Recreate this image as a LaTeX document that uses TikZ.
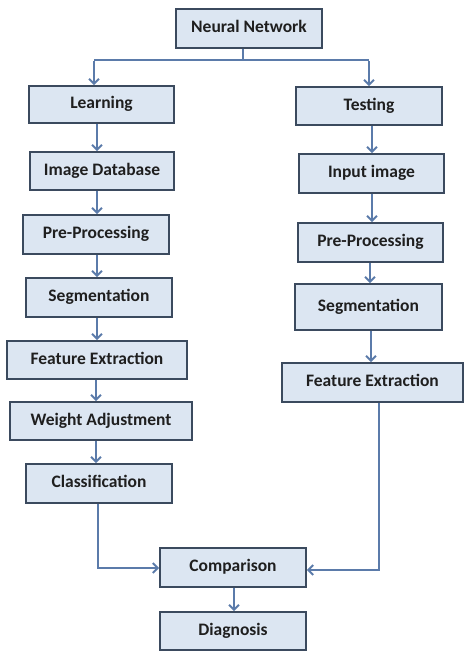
\documentclass[tikz,border=0pt]{standalone}
\usepackage{fontspec}
\setmainfont{Carlito}
\usetikzlibrary{arrows.meta}
\definecolor{boxfill}{HTML}{DCE6F2}
\definecolor{boxline}{HTML}{3B4A5E}
\definecolor{conn}{HTML}{5B7BAA}
\begin{document}
\begin{tikzpicture}[x=1pt,y=-1pt,
  box/.style={draw=boxline, fill=boxfill, line width=1.6pt, inner sep=0pt,
    font=\bfseries\fontsize{17.5}{20}\selectfont, text=black!88,
    text height=12pt, text depth=4pt},
  link/.style={draw=conn, line width=2pt},
  arr/.style={link, -{Straight Barb[length=5pt,width=10pt]}}]
\useasboundingbox (0,0) rectangle (474,656);
\fill[white] (0,0) rectangle (474,656);
% nodes
\node[box, minimum width=146pt, minimum height=39pt] (nn) at (249,28.5) {Neural Network};
\node[box, minimum width=145pt, minimum height=37pt] (learn) at (101.5,104.5) {Learning};
\node[box, minimum width=146pt, minimum height=38pt] (test) at (369,106) {Testing};
\node[box, minimum width=144pt, minimum height=38pt] (imgdb) at (102,171) {Image Database};
\node[box, minimum width=145pt, minimum height=39pt] (input) at (371.5,173.5) {Input image};
\node[box, minimum width=146pt, minimum height=39pt] (prel) at (96,234.5) {Pre-Processing};
\node[box, minimum width=146pt, minimum height=39pt] (segl) at (99,297.5) {Segmentation};
\node[box, minimum width=180pt, minimum height=38pt] (fel) at (97,360) {Feature Extraction};
\node[box, minimum width=182pt, minimum height=38pt] (wa) at (101,421) {Weight Adjustment};
\node[box, minimum width=146pt, minimum height=39pt] (cls) at (99,483.5) {Classification};
\node[box, minimum width=145pt, minimum height=39pt] (prer) at (370.5,242.5) {Pre-Processing};
\node[box, minimum width=147pt, minimum height=46pt] (segr) at (368.5,307) {Segmentation};
\node[box, minimum width=181pt, minimum height=39pt] (fer) at (372.5,382.5) {Feature Extraction};
\node[box, minimum width=146pt, minimum height=39pt] (comp) at (233,567.5) {Comparison};
\node[box, minimum width=146pt, minimum height=38pt] (diag) at (233,631) {Diagnosis};
% fork
\coordinate (fl) at (94,60);
\coordinate (fr) at (369,60);
\coordinate (fm) at (243,60);
\draw[link] (nn.south -| fm) -- (fm);
\draw[link] (fl) -- (fr);
\draw[arr] ([yshift=-1pt]fl) -- (learn.north -| fl);
\draw[arr] ([yshift=-1pt]fr) -- (test.north -| fr);
% left column
\draw[arr] (learn.south -| 97,0) -- (imgdb.north -| 97,0);
\draw[arr] (imgdb.south -| 97,0) -- (prel.north -| 97,0);
\draw[arr] (prel.south -| 97,0) -- (segl.north -| 97,0);
\draw[arr] (segl.south -| 97,0) -- (fel.north -| 97,0);
\draw[arr] (fel.south -| 96,0) -- (wa.north -| 96,0);
\draw[arr] (wa.south -| 96,0) -- (cls.north -| 96,0);
% right column
\draw[arr] (test.south -| 372,0) -- (input.north -| 372,0);
\draw[arr] (input.south -| 372,0) -- (prer.north -| 372,0);
\draw[arr] (prer.south -| 370,0) -- (segr.north -| 370,0);
\draw[arr] (segr.south -| 371,0) -- (fer.north -| 371,0);
% merge
\coordinate (cl) at (98,568);
\coordinate (cr) at (379,570);
\draw[arr] (cls.south -| cl) -- (cl) -- (comp.west |- cl);
\draw[arr] (fer.south -| cr) -- (cr) -- (comp.east |- cr);
\draw[arr] (comp.south -| 234,0) -- (diag.north -| 234,0);
\end{tikzpicture}
\end{document}
